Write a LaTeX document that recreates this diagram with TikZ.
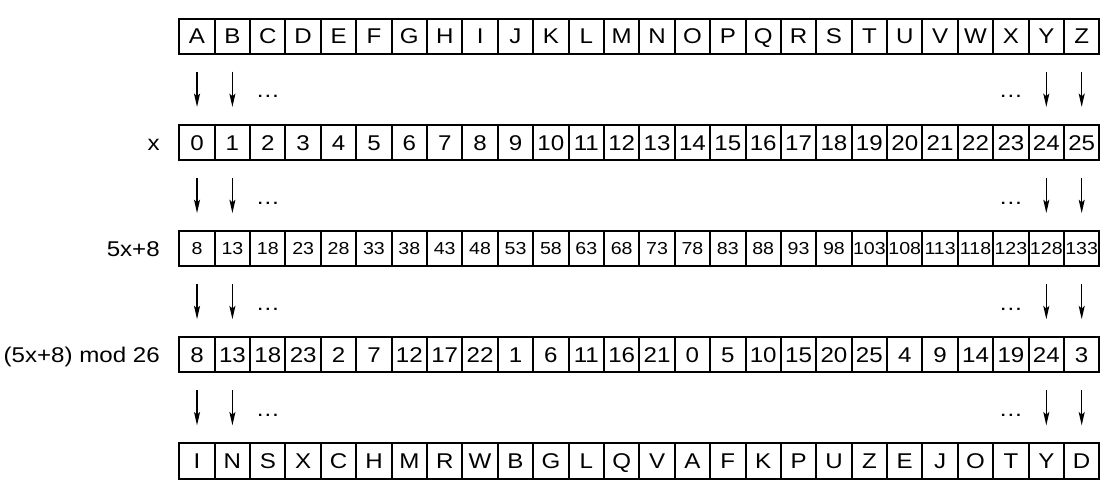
\documentclass[tikz,border=0pt]{standalone}
\usepackage{fontspec}
\setmainfont{Liberation Sans}[FakeStretch=1.13]
\usetikzlibrary{matrix}
\usetikzlibrary{positioning}
\usetikzlibrary{arrows.meta}

\begin{document}
\begin{tikzpicture}[
  cell/.style={draw, line width=1.5pt, minimum width=26.54pt, minimum height=26.6pt,
    inner sep=0pt, outer sep=0pt, anchor=center, text height=11.5pt, text depth=0pt},
  lab/.style={font=\fontsize{16}{19}\selectfont, inner sep=0pt, text height=11.5pt, text depth=0pt},
  arr/.style={line width=1pt, -{Stealth[length=10pt,width=4.5pt,inset=2pt]},
    shorten <=13.3pt, shorten >=13.3pt},
  dots/.style={font=\fontsize{16}{19}\selectfont, inner sep=0pt, anchor=base}
  ]
  \useasboundingbox (0,0) rectangle (840pt,-373.5pt);
  \matrix (m) [matrix of nodes, nodes={cell, font=\fontsize{16}{19}\selectfont},
    column sep=-1.5pt, row sep=51.5pt,
    row 3/.style={nodes={font=\fontsize{13}{15}\selectfont, text height=9.3pt}},
    matrix anchor=m-1-1.north west] at (134.5pt,-13.9pt)
  {
     A & B & C & D & E & F & G & H & I & J & K & L & M & N & O & P & Q & R & S & T & U & V & W & X & Y & Z \\ % letters
     0 & 1 & 2 & 3 & 4 & 5 & 6 & 7 & 8 & 9 & 10 & 11 & 12 & 13 & 14 & 15 & 16 & 17 & 18 & 19 & 20 & 21 & 22 & 23 & 24 & 25 \\ % x
     8 & 13 & 18 & 23 & 28 & 33 & 38 & 43 & 48 & 53 & 58 & 63 & 68 & 73 & 78 & 83 & 88 & 93 & 98 & 103 & 108 & 113 & 118 & 123 & 128 & 133 \\ % 5x+8
     8 & 13 & 18 & 23 & 2 & 7 & 12 & 17 & 22 & 1 & 6 & 11 & 16 & 21 & 0 & 5 & 10 & 15 & 20 & 25 & 4 & 9 & 14 & 19 & 24 & 3 \\ % mod 26
     I & N & S & X & C & H & M & R & W & B & G & L & Q & V & A & F & K & P & U & Z & E & J & O & T & Y & D \\ % cipher
  };
  \node[lab, left=14.5pt of m-2-1] (lx) {x};
  \node[lab, left=14.5pt of m-3-1] (llin) {5x+8};
  \node[lab, left=14.5pt of m-4-1] (lmod) {(5x+8) mod 26};
  \foreach \r/\s in {1/2,2/3,3/4,4/5}{
    \foreach \c in {1,2,25,26}
      \path[arr] (m-\r-\c) edge (m-\s-\c);
    \node[dots] (dl-\r) at ([yshift=-33pt]m-\r-3.south) {\ldots};
    \node[dots] (dr-\r) at ([yshift=-33pt]m-\r-24.south) {\ldots};
  }
\end{tikzpicture}
\end{document}
